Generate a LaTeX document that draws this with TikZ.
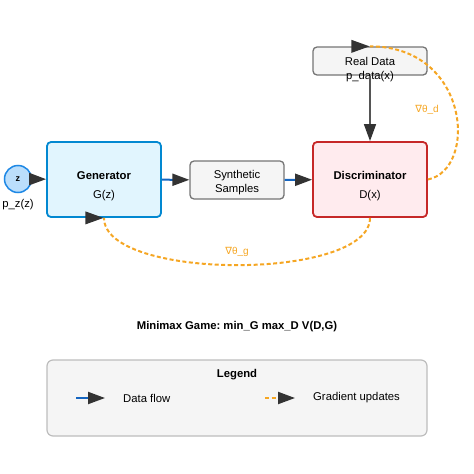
\documentclass[tikz,border=0pt]{standalone}
\usepackage{fontspec}
\setmainfont{Liberation Sans}
\newfontfamily\nablafont{DejaVu Sans}
\usetikzlibrary{arrows.meta,shapes.geometric}
\definecolor{genfill}{HTML}{E1F5FE}
\definecolor{genline}{HTML}{0288D1}
\definecolor{discfill}{HTML}{FFEBEE}
\definecolor{discline}{HTML}{C62828}
\definecolor{boxfill}{HTML}{F5F5F5}
\definecolor{boxline}{HTML}{757575}
\definecolor{legline}{HTML}{BDBDBD}
\definecolor{zfill}{HTML}{BBDEFB}
\definecolor{zline}{HTML}{1E88E5}
\definecolor{flowblue}{HTML}{1565C0}
\definecolor{gradorange}{HTML}{F5A623}
\definecolor{tipgray}{HTML}{333333}
\definecolor{feedgray}{HTML}{555555}
\frenchspacing

\begin{document}
\begin{tikzpicture}[x=1pt,y=-1pt,font=\fontsize{11.3}{14}\selectfont,
  block/.style={draw,rounded corners=4pt,line width=1.8pt,minimum width=114pt,minimum height=75pt},
  graybox/.style={draw=boxline,fill=boxfill,rounded corners=4pt,line width=1.3pt},
  bigtip/.style={-{Triangle[length=17pt,width=12pt,color=tipgray,fill=tipgray]}},
  flow/.style={line width=2pt,draw=flowblue,bigtip},
  feed/.style={line width=1.5pt,draw=feedgray,bigtip},
  grad/.style={line width=2pt,draw=gradorange,dash pattern=on 4pt off 2.5pt},
  gradtip/.style={isosceles triangle,isosceles triangle stretches,fill=tipgray,
    minimum width=13pt,minimum height=18pt,inner sep=0pt,anchor=apex},
  gradlabel/.style={text=gradorange,font=\fontsize{10}{12}\selectfont}]
  \useasboundingbox (0,0) rectangle (474,474);

  \node[circle,draw=zline,fill=zfill,line width=1.5pt,minimum size=27pt,inner sep=0pt,
    font=\fontsize{9}{10}\selectfont\bfseries] (z) at (18,179) {z};
  \node (pz) at (18,205) {p\_z(z)};

  \node[block,draw=genline,fill=genfill] (gen) at (104,179.5) {};
  \node[align=center] (gentxt) at (104,186) {\textbf{Generator}\\[5pt]G(z)};
  \node[graybox,minimum width=94pt,minimum height=38pt] (synth) at (237,180) {};
  \node[align=center] (synthtxt) at (237,183) {Synthetic\\Samples};
  \node[block,draw=discline,fill=discfill] (disc) at (370,179.5) {};
  \node[align=center] (disctxt) at (370,186) {\textbf{Discriminator}\\[5pt]D(x)};
  \node[graybox,minimum width=114pt,minimum height=28pt] (real) at (370,61) {};
  \node[align=center] (realtxt) at (370,69.5) {Real Data\\p\_data(x)};

  \draw[flow] (z) -- (gen);
  \draw[flow] (gen) -- (synth);
  \draw[flow] (synth) -- (disc);
  \draw[feed] (real) -- (disc);

  \draw[grad] (disc.east) .. controls +(50,-10) and +(100,0) .. (real.north);
  \node[gradtip] (tipd) at (real.north) {};
  \node[gradlabel] (labd) at (427,110) {{\nablafont ∇}θ\_d};
  \draw[grad] (disc.south) .. controls +(0,63) and +(0,63) .. (gen.south);
  \node[gradtip] (tipg) at (gen.south) {};
  \node[gradlabel] (labg) at (237,252) {{\nablafont ∇}θ\_g};

  \node (title) at (237,327) {\textbf{Minimax Game: min\_G max\_D V(D,G)}};

  \node[draw=legline,fill=boxfill,rounded corners=6pt,line width=1.2pt,
    minimum width=380pt,minimum height=76pt] (legend) at (237,398) {};
  \node (legtitle) at (237,375) {\textbf{Legend}};
  \coordinate (df1) at (76,398);
  \coordinate (df2) at (105,398);
  \draw[flow] (df1) -- (df2);
  \node[anchor=west,inner sep=0pt] (dftxt) at (123,398) {Data flow};
  \coordinate (gu1) at (265,398);
  \coordinate (gu2) at (295,398);
  \draw[grad,bigtip] (gu1) -- (gu2);
  \node[anchor=west,inner sep=0pt] (gutxt) at (313,398) {Gradient updates};
\end{tikzpicture}
\end{document}
